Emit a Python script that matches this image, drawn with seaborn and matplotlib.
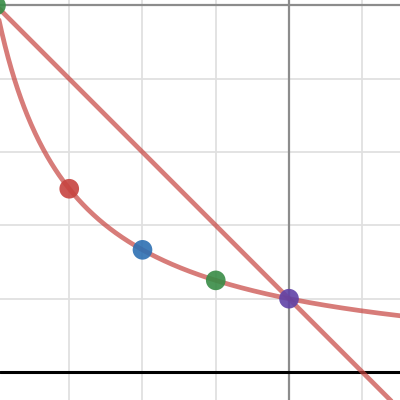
import seaborn as sns
import matplotlib.pyplot as plt
import pandas as pd
import numpy as np

# points on the curve
point_x = [-4, -3, -2, -1, 0]
point_y = [5.0, 2.5, 5 / 3, 1.25, 1.0]
point_colors = ["#388c46", "#c74440", "#2d70b3", "#388c46", "#6042a6"]

# curve y = a / (x + b) and line y = m*x + c
curve_a = 5
curve_b = 5
line_m = -1
line_c = 1

xmin, xmax = -3.945, 1.515
ymin, ymax = -0.382, 5.075

sns.set_style("white")
fig = plt.figure(figsize=(4, 4), dpi=100)
ax = fig.add_axes([0, 0, 1, 1])

# grid
for gx in range(-4, 2):
    ax.axvline(gx, color="#e0e0e0", lw=1.3, zorder=0)
for gy in range(0, 6):
    ax.axhline(gy, color="#e0e0e0", lw=1.3, zorder=0)
ax.axvline(0, color="#8c8c8c", lw=1.6, zorder=1)
ax.axhline(5, color="#8c8c8c", lw=1.6, zorder=1)
ax.axhline(0, color="black", lw=2.2, zorder=1)

xs = np.linspace(-4.9, xmax + 0.1, 600)
curve = pd.DataFrame({"x": xs, "y": curve_a / (xs + curve_b)})
xl = np.linspace(xmin - 0.2, xmax + 0.2, 50)
line = pd.DataFrame({"x": xl, "y": line_m * xl + line_c})

sns.lineplot(data=curve, x="x", y="y", color="#c74440", alpha=0.7, lw=3.4,
             ax=ax, zorder=3, sort=False)
sns.lineplot(data=line, x="x", y="y", color="#c74440", alpha=0.7, lw=3.4,
             ax=ax, zorder=3, sort=False)

pts = pd.DataFrame({"x": point_x, "y": point_y, "c": point_colors})
sns.scatterplot(data=pts, x="x", y="y", hue="c", palette={c: c for c in point_colors},
                s=200, edgecolor="none", legend=False, ax=ax, zorder=4, alpha=0.9)

ax.set_xlim(xmin, xmax)
ax.set_ylim(ymin, ymax)
ax.set_xticks([])
ax.set_yticks([])
ax.set_xlabel("")
ax.set_ylabel("")
for s in ax.spines.values():
    s.set_visible(False)

fig.savefig("out.png", dpi=100)
